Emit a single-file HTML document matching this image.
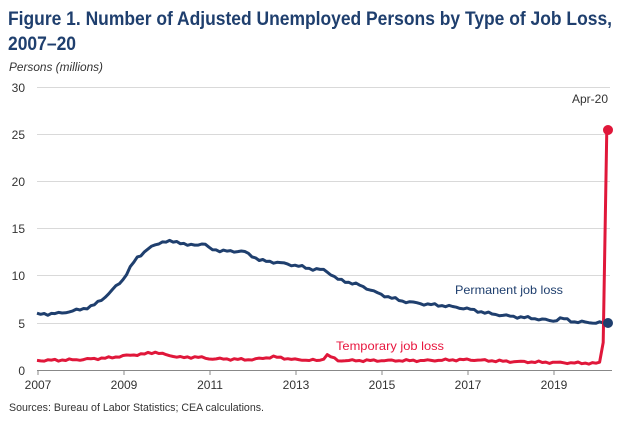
<!DOCTYPE html>
<html><head><meta charset="utf-8"><style>
body{margin:0;background:#fff;width:620px;height:420px;overflow:hidden;font-family:"Liberation Sans",sans-serif}
</style></head><body>
<svg width="620" height="420" xmlns="http://www.w3.org/2000/svg" font-family="Liberation Sans, sans-serif">
<text x="8" y="25" font-size="19" font-weight="bold" fill="#1f3f6e" textLength="604" lengthAdjust="spacingAndGlyphs">Figure 1. Number of Adjusted Unemployed Persons by Type of Job Loss,</text>
<text x="8" y="50" font-size="19" font-weight="bold" fill="#1f3f6e" textLength="68" lengthAdjust="spacingAndGlyphs">2007–20</text>
<text x="9" y="71" font-size="12" font-style="italic" fill="#333" textLength="94" lengthAdjust="spacingAndGlyphs">Persons (millions)</text>
<g stroke="#d9d9d9" stroke-width="1">
<line x1="37" x2="610" y1="87.5" y2="87.5"/><line x1="37" x2="610" y1="134.5" y2="134.5"/>
<line x1="37" x2="610" y1="181.5" y2="181.5"/><line x1="37" x2="610" y1="228.5" y2="228.5"/>
<line x1="37" x2="610" y1="275.5" y2="275.5"/><line x1="37" x2="610" y1="323.5" y2="323.5"/>
</g>
<line x1="37" x2="612" y1="370.5" y2="370.5" stroke="#888"/>
<g stroke="#888"><line x1="38" x2="38" y1="370" y2="375"/><line x1="124" x2="124" y1="370" y2="375"/><line x1="210" x2="210" y1="370" y2="375"/><line x1="296" x2="296" y1="370" y2="375"/><line x1="382" x2="382" y1="370" y2="375"/><line x1="468" x2="468" y1="370" y2="375"/><line x1="554" x2="554" y1="370" y2="375"/></g>
<g font-size="12" fill="#333" text-anchor="end">
<text x="25" y="92">30</text><text x="25" y="139">25</text><text x="25" y="186">20</text><text x="25" y="233">15</text><text x="25" y="280">10</text><text x="25" y="328">5</text><text x="25" y="375">0</text>
</g>
<g font-size="12" fill="#333" text-anchor="middle">
<text x="38" y="389">2007</text><text x="124" y="389">2009</text><text x="210" y="389">2011</text><text x="296" y="389">2013</text><text x="382" y="389">2015</text><text x="468" y="389">2017</text><text x="554" y="389">2019</text>
</g>
<text x="590" y="103" font-size="12" fill="#333" text-anchor="middle">Apr-20</text>
<text x="455" y="294" font-size="12" fill="#1f3f6e" textLength="108" lengthAdjust="spacingAndGlyphs">Permanent job loss</text>
<text x="336" y="350" font-size="12" fill="#e8173f" textLength="108" lengthAdjust="spacingAndGlyphs">Temporary job loss</text>
<polyline id="blue" fill="none" stroke="#1f3f6e" stroke-width="3" stroke-linejoin="round"/>
<polyline id="red" fill="none" stroke="#e0173a" stroke-width="3" stroke-linejoin="round"/>
<circle cx="608" cy="323" r="5" fill="#1f3f6e"/>
<circle cx="608" cy="130" r="5" fill="#e0173a"/>
<text x="9" y="411" font-size="11" fill="#333" textLength="255" lengthAdjust="spacingAndGlyphs">Sources: Bureau of Labor Statistics; CEA calculations.</text>
</svg>
<script>
function interp(k,t){for(var i=0;i<k.length-1;i++){if(t>=k[i][0]&&t<=k[i+1][0]){var f=(t-k[i][0])/(k[i+1][0]-k[i][0]);return k[i][1]+f*(k[i+1][1]-k[i][1]);}}return k[k.length-1][1];}
var B=[[2007,5.9],[2007.5,6.0],[2008,6.4],[2008.3,6.8],[2008.6,7.8],[2009,9.6],[2009.3,11.8],[2009.6,12.9],[2009.9,13.6],[2010.3,13.6],[2010.5,13.2],[2010.9,13.4],[2011,12.9],[2011.3,12.6],[2011.8,12.6],[2012.2,11.6],[2012.6,11.4],[2013,11.1],[2013.4,10.7],[2013.7,10.6],[2014,9.6],[2014.5,9.0],[2015,8.0],[2015.5,7.3],[2016,7.0],[2016.5,6.8],[2017,6.5],[2017.5,6.0],[2018,5.7],[2018.5,5.5],[2019,5.2],[2019.2,5.5],[2019.5,5.1],[2020.1,5.0],[2020.25,5.0]];
var R=[[2007,1.0],[2008,1.1],[2008.7,1.3],[2009,1.5],[2009.5,1.7],[2009.75,1.9],[2010,1.6],[2010.4,1.3],[2010.7,1.4],[2011,1.2],[2012,1.1],[2012.5,1.4],[2013,1.1],[2013.6,1.0],[2013.75,1.6],[2014,1.0],[2016,1.0],[2017,1.1],[2018,0.9],[2019,0.8],[2020.0,0.7],[2020.08,0.7],[2020.17,3.0],[2020.25,25.5]];
function pts(k,amp,seed){var s=[];var n=Math.round((2020.25-2007)*12);for(var i=0;i<=n;i++){var t=2007+i/12;var v=interp(k,t);if(t<2020.1)v+=amp*Math.sin(i*2.3+seed)*Math.cos(i*1.1);s.push((37+(t-2007)*43).toFixed(1)+","+(370-v*9.43).toFixed(1));}return s.join(" ");}
document.getElementById("blue").setAttribute("points",pts(B,0.15,1));
document.getElementById("red").setAttribute("points",pts(R,0.12,3));
</script>
</body></html>
